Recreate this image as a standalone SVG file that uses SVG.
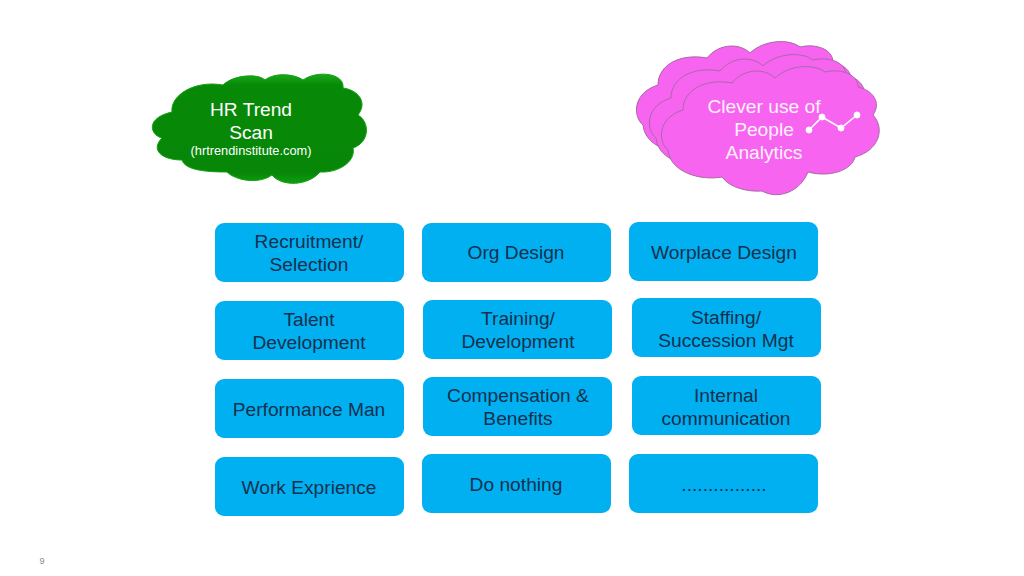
<svg xmlns="http://www.w3.org/2000/svg" width="1024" height="576" viewBox="0 0 1024 576">
<style>
text{font-family:"Liberation Sans",Arial,sans-serif;text-anchor:middle}
.box{fill:#00b0f0}
.t{font-size:19.2px;fill:#15304f}
.w{font-size:19.2px;fill:#fdf0fd}
.p{fill:#f765f0;stroke:#a868a8;stroke-width:1}
</style>
<defs>
<linearGradient id="g" x1="0" y1="0" x2="0" y2="1"><stop offset="0" stop-color="#1aa81a"/><stop offset=".1" stop-color="#078a07"/><stop offset=".9" stop-color="#078607"/><stop offset="1" stop-color="#0e9f0e"/></linearGradient>
<path id="pc" d="M683 110C683 90 705 78 732 83C744 68 765 68 775 78C790 64 815 64 825 72C842 68 858 75 858 87C872 90 882 102 873 115C885 128 880 150 855 157C852 170 830 178 808 172C800 192 778 200 762 191C748 192 730 188 722 177C700 181 670 172 668 150C658 142 657 118 683 110Z"/>
</defs>
<rect width="1024" height="576" fill="#fff"/>
<g id="cloud-hr">
<path fill="url(#g)" stroke="#12a012" d="M172 112C170 95 195 80 223 85C233 75 258 73 265 80C275 72 295 74 303 80C317 70 345 73 343 88C358 90 368 102 358 115C370 122 370 142 353 148C356 162 338 173 320 172C308 186 282 187 272 175C258 185 235 180 227 172C205 172 185 170 182 160C162 160 150 150 162 138C150 135 145 118 172 112Z"/>
<text class="w" x="251" y="116" style="fill:#fff">HR Trend</text>
<text class="w" x="251" y="139" style="fill:#fff">Scan</text>
<text x="251" y="155" font-size="12.8" fill="#fff">(hrtrendinstitute.com)</text>
</g>
<g id="cloud-analytics">
<use href="#pc" class="p" x="-25" y="-25"/>
<use href="#pc" class="p" x="-12" y="-12"/>
<use href="#pc" class="p"/>
<text class="w" x="764" y="113">Clever use of</text>
<text class="w" x="764" y="136">People</text>
<text class="w" x="764" y="159">Analytics</text>
<g fill="#fff" stroke="#fff"><path fill="none" stroke-width="1.6" d="M809 130L822 117L841 128L857 115"/><circle cx="809" cy="130" r="3"/><circle cx="822" cy="117" r="3"/><circle cx="841" cy="128" r="3"/><circle cx="857" cy="115" r="3"/></g>
</g>
<g id="node-recruitment"><rect class="box" x="215" y="223" width="189" height="59" rx="9"/><text class="t" x="309" y="248">Recruitment/</text><text class="t" x="309" y="271">Selection</text></g>
<g id="node-org"><rect class="box" x="422" y="223" width="189" height="59" rx="9"/><text class="t" x="516" y="259">Org Design</text></g>
<g id="node-workplace"><rect class="box" x="629" y="222" width="189" height="59" rx="9"/><text class="t" x="724" y="259">Worplace Design</text></g>
<g id="node-talent"><rect class="box" x="215" y="301" width="189" height="59" rx="9"/><text class="t" x="309" y="326">Talent</text><text class="t" x="309" y="349">Development</text></g>
<g id="node-training"><rect class="box" x="423" y="300" width="189" height="59" rx="9"/><text class="t" x="518" y="325">Training/</text><text class="t" x="518" y="348">Development</text></g>
<g id="node-staffing"><rect class="box" x="632" y="298" width="189" height="59" rx="9"/><text class="t" x="726" y="324">Staffing/</text><text class="t" x="726" y="347">Succession Mgt</text></g>
<g id="node-performance"><rect class="box" x="215" y="379" width="189" height="59" rx="9"/><text class="t" x="309" y="416">Performance Man</text></g>
<g id="node-compensation"><rect class="box" x="423" y="377" width="189" height="59" rx="9"/><text class="t" x="518" y="402">Compensation &amp;</text><text class="t" x="518" y="425">Benefits</text></g>
<g id="node-internal"><rect class="box" x="632" y="376" width="189" height="59" rx="9"/><text class="t" x="726" y="402">Internal</text><text class="t" x="726" y="425">communication</text></g>
<g id="node-work"><rect class="box" x="215" y="457" width="189" height="59" rx="9"/><text class="t" x="309" y="494">Work Exprience</text></g>
<g id="node-nothing"><rect class="box" x="422" y="454" width="189" height="59" rx="9"/><text class="t" x="516" y="491">Do nothing</text></g>
<g id="node-dots"><rect class="box" x="629" y="454" width="189" height="59" rx="9"/><text class="t" x="724" y="491">................</text></g>
<g id="connectors"/>
<text x="42" y="564" font-size="9" fill="#8a8a8a">9</text>
</svg>
